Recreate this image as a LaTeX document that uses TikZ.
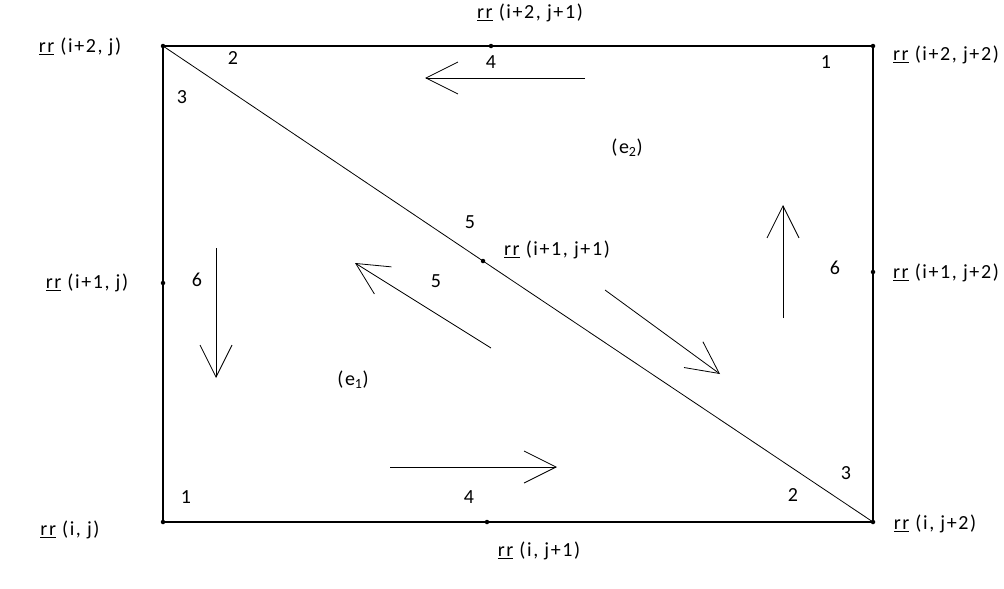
\documentclass[tikz,border=0pt]{standalone}
\usepackage{fontspec}
\setmainfont{Carlito}[LetterSpace=8]
\usetikzlibrary{arrows.meta}
\tikzset{
  lbl/.style={inner sep=0pt, font=\fontsize{20}{23}\selectfont},
  edge/.style={line width=1.3pt},
  diag/.style={line width=0.8pt},
  flow/.style={line width=0.8pt, -{Straight Barb[length=32pt,width=32pt,line width=0.8pt]}},
  pt/.style={circle, fill, inner sep=0pt, minimum size=4.5pt}
}
\newcommand{\rrlab}[1]{\underline{rr} (#1)}
\begin{document}
\begin{tikzpicture}[x=1pt,y=-1pt]
\useasboundingbox (0,0) rectangle (1004,589);
% corners and points
\node[pt] (TL) at (163,46) {};
\node[pt] (TR) at (873,46) {};
\node[pt] (BL) at (163,522) {};
\node[pt] (BR) at (873,522) {};
\node[pt] (TM) at (491,46) {};
\node[pt] (LM) at (163,283) {};
\node[pt] (RM) at (873,272) {};
\node[pt] (BM) at (487,522) {};
\node[pt] (CM) at (483,261) {};
% edges
\draw[edge] (TL.center) -- (TM.center) -- (TR.center) -- (RM.center) -- (BR.center) -- (BM.center) -- (BL.center) -- (LM.center) -- (TL.center);
\draw[diag] (TL.center) -- (CM.center) -- (BR.center);
% point labels
\node[lbl] (lTL) at (80,47) {\rrlab{i+2, j}};
\node[lbl] (lTM) at (530,13) {\rrlab{i+2, j+1}};
\node[lbl] (lTR) at (946,55) {\rrlab{i+2, j+2}};
\node[lbl] (lLM) at (87,283) {\rrlab{i+1, j}};
\node[lbl] (lCM) at (557,250) {\rrlab{i+1, j+1}};
\node[lbl] (lRM) at (946,273) {\rrlab{i+1, j+2}};
\node[lbl] (lBL) at (70,530) {\rrlab{i, j}};
\node[lbl] (lBM) at (539,551) {\rrlab{i, j+1}};
\node[lbl] (lBR) at (935,524) {\rrlab{i, j+2}};
% local numbers
\node[lbl] (n2a) at (233,58) {2};
\node[lbl] (n3a) at (182,97) {3};
\node[lbl] (n4a) at (491,62) {4};
\node[lbl] (n1a) at (826,62) {1};
\node[lbl] (e2) at (627,148) {(e\textsubscript{2})};
\node[lbl] (n5a) at (470,222) {5};
\node[lbl] (n5b) at (436,281) {5};
\node[lbl] (n6a) at (197,280) {6};
\node[lbl] (n6b) at (835,268) {6};
\node[lbl] (e1) at (353,380) {(e\textsubscript{1})};
\node[lbl] (n1b) at (186,497) {1};
\node[lbl] (n4b) at (469,497) {4};
\node[lbl] (n2b) at (793,495) {2};
\node[lbl] (n3b) at (846,473) {3};
% direction arrows
\coordinate (a1s) at (585,78);  \coordinate (a1e) at (425,78);
\coordinate (a2s) at (216,248); \coordinate (a2e) at (216,378);
\coordinate (a3s) at (783,318); \coordinate (a3e) at (783,205);
\coordinate (a4s) at (390,467); \coordinate (a4e) at (557,467);
\coordinate (a5s) at (491,348); \coordinate (a5e) at (355,263);
\coordinate (a6s) at (605,290); \coordinate (a6e) at (720,374);
\draw[flow] (a1s) -- (a1e);
\draw[flow] (a2s) -- (a2e);
\draw[flow] (a3s) -- (a3e);
\draw[flow] (a4s) -- (a4e);
\draw[flow] (a5s) -- (a5e);
\draw[flow] (a6s) -- (a6e);
\end{tikzpicture}
\end{document}
